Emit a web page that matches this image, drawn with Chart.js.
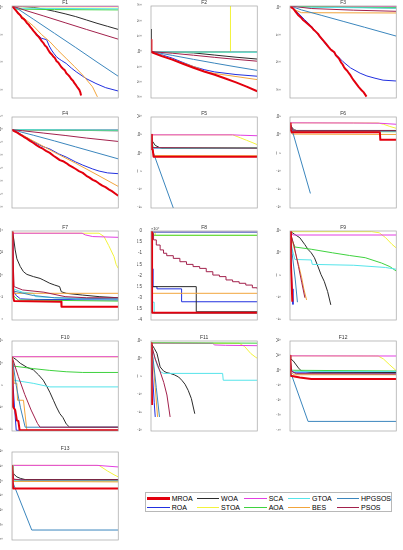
<!DOCTYPE html>
<html>
<head>
<meta charset="utf-8">
<script src="https://cdn.jsdelivr.net/npm/chart.js@4.4.1/dist/chart.umd.min.js"></script>
<style>
  body { margin: 0; background: #fff; }
  #page { position: relative; width: 403px; height: 550px; overflow: hidden; background: #fff; }
  .panel { position: absolute; }
  #legend {
    position: absolute; left: 145px; top: 492px; width: 247px; height: 20px;
    box-sizing: border-box; border: 1px solid #b8b8b8; background: #fff;
    padding: 1px 0 0 1.3px;
    display: grid; grid-auto-flow: column;
    grid-template-rows: 9px 9px;
    grid-template-columns: 49.4px 47.6px 43.4px 49px auto;
    font: 7px "Liberation Sans", Arial, sans-serif; color: #000;
  }
  .item { display: flex; align-items: center; white-space: nowrap; }
  .item i { display: inline-block; width: 22.6px; margin-right: 1.8px; }
</style>
</head>
<body>
<div id="page"><div id="legend"></div></div>
<script>
// plotting order follows the legend (column by column)
const algorithms = ['MROA', 'ROA', 'WOA', 'STOA', 'SCA', 'AOA', 'GTOA', 'BES', 'HPGSOS', 'PSOS'];
const colors = ['#e3000e', '#2230df', '#2b2b2b', '#f3f33c', '#e23fe2', '#3fd23f', '#55e4ea', '#f2a53c', '#3b86bd', '#a2214c'];
const titles = ['F1', 'F2', 'F3', 'F4', 'F5', 'F6', 'F7', 'F8', 'F9', 'F10', 'F11', 'F12', 'F13'];
const iterTicks = [0, 50, 100, 150, 200, 250, 300, 350, 400, 450, 500];

// y values are log10 of the best fitness (F8: fitness in units of 10^4)
const yLimits = [[-325, 5], [-300, 300], [-325, 5], [-300, 50], [-15, 10], [-20, 5], [-4, 4],
                 [-4, 0], [-15, 5], [-15.2, 5], [-20, 5], [-40, 20], [-40, 20]];
const yTicks = [
  [0, -100, -200, -300],
  [300, 200, 100, 0, -100, -200, -300],
  [0, -100, -200, -300],
  [50, 0, -50, -100, -150, -200, -250, -300],
  [10, 5, 0, -5, -10, -15],
  [5, 0, -5, -10, -15, -20],
  [4, 2, 0, -2, -4],
  [0, -0.5, -1, -1.5, -2, -2.5, -3, -3.5, -4],
  [5, 0, -5, -10, -15],
  [5, 0, -5, -10, -15],
  [5, 0, -5, -10, -15, -20],
  [20, 10, 0, -10, -20, -30, -40],
  [20, 10, 0, -10, -20, -30, -40]
];

// each function: one [iteration, value] list per algorithm, in the order above
const f1 = [
  [[0,5],[8,-2],[15,-8],[22,-14],[30,-22],[39,-28],[47,-38],[55,-41],[62,-47],[70,-56],[78,-61],[85,-69],[93,-76],[101,-84],[110,-92],[118,-100],[124,-104],[132,-112],[140,-121],[147,-127],[155,-137],[163,-142],[170,-152],[178,-162],[186,-168],[194,-176],[201,-181],[210,-193],[218,-198],[224,-205],[232,-214],[240,-220],[248,-225],[256,-236],[264,-242],[271,-248],[280,-258],[288,-264],[294,-272],[302,-280],[310,-289],[317,-296],[322,-306],[325,-316]],
  [[0,5],[20,-14],[50,-38],[80,-64],[110,-92],[139,-111],[150,-113],[163,-116],[175,-138],[186,-153],[198,-166],[209,-177],[222,-185],[232,-190],[255,-201],[280,-218],[302,-231],[348,-255],[395,-273],[441,-288],[500,-300]],
  [[0,5],[50,3],[100,0],[150,-6],[200,-14],[250,-23],[300,-33],[350,-45],[400,-57],[450,-68],[500,-79]],
  [[0,5],[30,2],[500,2]],
  [[0,5],[500,4]],
  [[0,5],[15,-6],[200,-8],[500,-9]],
  [[0,5],[15,-3],[500,-5]],
  [[0,5],[20,-10],[50,-35],[101,-67],[140,-98],[178,-123],[215,-153],[255,-183],[295,-213],[333,-243],[379,-285],[402,-321]],
  [[0,5],[25,-4],[100,-42],[200,-93],[300,-144],[400,-196],[500,-247]],
  [[0,5],[30,-2],[60,-10],[150,-31],[250,-55],[350,-79],[500,-114]]
];
const f2 = [
  [[0,80],[2,0],[10,-5],[50,-27],[100,-50],[150,-77],[200,-103],[250,-127],[300,-148],[350,-173],[400,-198],[450,-226],[500,-256]],
  [[0,5],[2,0],[50,-18],[100,-40],[150,-68],[200,-95],[250,-115],[300,-130],[400,-147],[500,-158]],
  [[0,150],[2,0],[100,0],[200,-6],[300,-20],[400,-34],[500,-46]],
  [[0,5],[2,0],[374,0],[374,320]],
  [[0,5],[2,2],[500,1]],
  [[0,5],[2,0],[500,0]],
  [[0,5],[2,0],[500,-1]],
  [[0,5],[2,0],[50,-22],[100,-48],[150,-72],[200,-95],[230,-110],[250,-128],[300,-140],[400,-160],[500,-180]],
  [[0,5],[20,-2],[100,-22],[200,-48],[300,-73],[400,-97],[500,-120]],
  [[0,5],[20,0],[100,-8],[200,-21],[300,-35],[400,-48],[500,-60]]
];
const f3 = [
  [[0,5],[8,-1],[15,-4],[25,-14],[38,-27],[50,-35],[60,-44],[69,-50],[80,-57],[92,-65],[100,-70],[110,-79],[120,-86],[131,-94],[140,-104],[150,-113],[160,-122],[169,-130],[180,-141],[190,-150],[200,-156],[208,-160],[216,-172],[224,-178],[231,-184],[240,-197],[247,-204],[254,-214],[262,-222],[270,-228],[277,-236],[285,-244],[293,-254],[300,-262],[308,-270],[315,-277],[323,-285],[331,-292],[338,-298],[346,-304],[354,-313],[360,-320]],
  [[0,5],[15,-2],[38,-20],[69,-44],[100,-67],[131,-97],[169,-133],[208,-163],[250,-195],[285,-217],[330,-236],[362,-246],[400,-254],[438,-261],[500,-264]],
  [[0,5],[100,3],[300,0],[500,-2]],
  [[0,5],[500,3]],
  [[0,5],[500,4]],
  [[0,5],[100,2],[500,-1]],
  [[0,5],[50,1],[500,-3]],
  [[0,5],[20,-8],[54,-19],[500,-20]],
  [[0,5],[20,0],[54,-9],[150,-29],[250,-50],[350,-71],[500,-103]],
  [[0,5],[100,-4],[300,-10],[500,-14]]
];
const f4 = [
  [[0,1],[10,-4],[25,-10],[39,-18],[55,-26],[70,-33],[85,-42],[101,-50],[115,-58],[130,-66],[145,-72],[160,-80],[178,-88],[195,-99],[210,-107],[225,-116],[240,-120],[255,-127],[270,-136],[285,-143],[300,-150],[315,-158],[333,-165],[350,-176],[365,-183],[380,-192],[395,-197],[410,-206],[425,-214],[440,-220],[457,-229],[470,-235],[485,-244],[500,-253]],
  [[0,1],[39,-15],[101,-45],[140,-62],[178,-73],[220,-92],[255,-104],[300,-123],[333,-135],[380,-150],[410,-158],[450,-165],[500,-168]],
  [[0,1],[500,-3]],
  [[0,1],[500,0]],
  [[0,1],[500,1]],
  [[0,1],[500,-1]],
  [[0,1],[500,0]],
  [[0,1],[50,-20],[100,-42],[200,-86],[300,-128],[400,-172],[500,-217]],
  [[0,1],[30,-5],[100,-20],[200,-42],[300,-65],[400,-88],[500,-111]],
  [[0,1],[50,-3],[150,-12],[250,-21],[350,-31],[500,-44]]
];
const f5 = [
  [[0,5.1],[4,1.15],[8,1.1],[12,-0.9],[500,-0.9]],
  [[0,5],[3,1.5],[500,1.42]],
  [[0,5.1],[5,3.5],[20,2.2],[40,1.6],[50,1.45],[500,1.42]],
  [[0,5.1],[384,5.1],[420,4.3],[450,3.6],[480,2.9],[500,2.4]],
  [[0,5.1],[384,5.1],[420,5.0],[500,4.85]],
  [[0,5],[10,1.6],[500,1.5]],
  [[0,5],[10,1.5],[500,1.45]],
  [[0,5],[8,1.0],[15,-0.6],[500,-0.65]],
  [[0,5],[5,1.15],[105,-15]],
  [[0,5],[6,1.6],[500,1.45]]
];
const f6 = [
  [[0,3.2],[3,1.5],[8,0.8],[423,0.8],[425,-1.27],[500,-1.27]],
  [[0,3.2],[5,1.2],[500,1.15]],
  [[0,3.0],[10,2.0],[20,1.5],[31,1.3],[500,1.3]],
  [[0,3.4],[415,3.35],[440,3.0],[470,2.4],[500,1.9]],
  [[0,3.4],[300,3.35],[420,3.3],[500,3.0]],
  [[0,3.2],[8,1.0],[500,0.95]],
  [[0,3.2],[8,1.1],[500,1.05]],
  [[0,3.2],[10,0.3],[500,0.2]],
  [[0,3.4],[96,-16]],
  [[0,3.2],[15,1.2],[500,1.2]]
];
const f7 = [
  [[0,3.9],[3,1.0],[6,-2.0],[10,-2.3],[232,-2.36],[233,-2.81],[500,-2.81]],
  [[0,3.8],[4,-1.2],[20,-1.8],[40,-2.1],[100,-2.15],[500,-2.2]],
  [[0,3.9],[8,3.3],[15,2.3],[23,1.5],[39,0.8],[54,0.34],[70,0.1],[101,-0.1],[132,-0.26],[147,-0.4],[178,-0.7],[201,-0.86],[224,-1.0],[232,-1.46],[255,-1.6],[333,-1.76],[410,-1.9],[500,-2.0]],
  [[0,3.8],[410,3.8],[433,3.5],[455,2.7],[480,1.7],[490,1.0],[500,0.64]],
  [[0,3.8],[330,3.8],[345,3.65],[380,3.5],[500,3.43]],
  [[0,3.8],[5,-1.8],[30,-2.2],[500,-2.3]],
  [[0,3.8],[6,-1.2],[50,-1.5],[100,-1.6],[110,-1.9],[300,-2.1],[500,-2.1]],
  [[0,3.8],[5,-1.0],[10,-1.6],[500,-1.6]],
  [[0,3.8],[8,-1.4],[100,-1.8],[200,-2.0],[500,-2.1]],
  [[0,3.8],[10,-1.0],[50,-1.3],[150,-1.5],[250,-1.9],[350,-2.0],[500,-2.0]]
];
const f8 = [
  [[0,-0.05],[5,-3.67],[500,-3.67]],
  [[0,-0.05],[4,-1.7],[10,-2.5],[28,-2.6],[144,-3.18],[500,-3.18]],
  [[0,-0.05],[3,-2.5],[213,-3.63],[500,-3.66]],
  [[0,-0.05],[20,-0.2],[500,-0.2]],
  [[0,-0.05],[500,-0.06]],
  [[0,-0.1],[10,-0.19],[500,-0.2]],
  [[0,-0.1],[3,-2.5],[6,-3.2],[15,-3.7],[500,-3.7]],
  [[0,-0.05],[5,-2.8],[500,-2.8]],
  [[0,-0.05],[500,-0.06]],
  [[0,-0.1],[12,-0.4],[25,-0.63],[43,-0.85],[59,-1.0],[74,-1.11],[105,-1.23],[136,-1.38],[167,-1.5],[198,-1.6],[229,-1.68],[260,-1.83],[291,-1.98],[322,-2.05],[353,-2.2],[384,-2.28],[415,-2.35],[446,-2.43],[477,-2.55],[500,-2.61]]
];
const f9 = [
  [[0,5],[4,-2],[8,-7],[11,-10.9]],
  [[0,5],[5,-3],[10,-8],[14,-11.5]],
  [[0,5],[20,4.3],[46,3.5],[69,2.0],[85,0.85],[100,0.1],[115,-1.0],[131,-2.9],[146,-4.8],[161,-6.3],[177,-8.6],[192,-11.6]],
  [[0,4.85],[385,4.85],[420,4.6],[450,3.5],[480,2.0],[500,1.2]],
  [[0,4.85],[8,4.3],[15,4.1],[500,4.1]],
  [[0,4.8],[10,3.0],[23,1.4],[100,0.9],[200,0.1],[280,-0.5],[354,-1.0],[431,-2.2],[470,-3.0],[500,-4.0]],
  [[0,4.8],[10,1.0],[23,-1.4],[100,-1.5],[105,-2.5],[300,-2.7],[450,-3.2],[500,-3.6]],
  [[0,5],[20,1.0],[40,-2.5],[55,-5.5],[65,-8.0],[78,-10.5]],
  [[0,5],[10,0],[25,-6],[35,-11]],
  [[0,5],[20,1.5],[40,-3.0],[55,-6.5],[70,-10]]
];
const f10 = [
  [[0,1.47],[5,-9.8],[15,-10.5],[23,-12.8],[30,-13.0],[36,-15.05],[500,-15.05]],
  [[0,1.47],[5,-5],[12,-10],[20,-15.05],[500,-15.05]],
  [[0,1.47],[20,0.8],[39,0.0],[70,-0.9],[101,-1.5],[125,-2.6],[147,-3.8],[165,-5.3],[178,-6.5],[195,-8.3],[209,-9.8],[225,-11.3],[240,-12.2],[255,-13.6],[271,-14.35],[500,-14.35]],
  [[0,1.47],[500,1.45]],
  [[0,1.47],[500,1.47]],
  [[0,1.47],[7,-0.63],[100,-1.2],[178,-1.6],[255,-1.9],[333,-2.06],[500,-2.06]],
  [[0,1.47],[8,-3.8],[100,-4.5],[178,-5.3],[500,-5.3]],
  [[0,1.47],[10,-4.5],[23,-4.5],[26,-8.3],[54,-8.3],[70,-15.05],[500,-15.05]],
  [[0,1.47],[20,-5],[40,-10],[62,-14.35],[500,-14.35]],
  [[0,1.47],[30,-3],[60,-7],[90,-10.5],[120,-13.5],[132,-14.35],[500,-14.35]]
];
const f11 = [
  [[0,4.4],[3,-5],[5,-12.8]],
  [[0,4.4],[8,-5],[15,-12],[20,-16.1]],
  [[0,4.4],[15,3],[28,1.6],[43,-2.2],[60,-3.4],[75,-3.8],[90,-4.0],[110,-4.4],[130,-5.0],[145,-5.9],[160,-7.0],[175,-8.7],[190,-11.0],[206,-15.2]],
  [[0,4.4],[415,4.35],[440,3.5],[470,1.5],[490,0.6],[500,0.2]],
  [[0,4.4],[290,4.35],[300,3.9],[350,3.8],[500,3.7]],
  [[0,4.5],[500,4.4]],
  [[0,4.4],[15,1],[30,-2],[43,-3.5],[60,-4.0],[337,-4.0],[340,-5.9],[500,-5.9]],
  [[0,4.4],[10,-1],[20,-8],[31,-16.1]],
  [[0,4.4],[10,0],[25,-8],[40,-16.1]],
  [[0,4.4],[20,0],[40,-3],[60,-6.5],[75,-10],[90,-16.1]]
];
const f12 = [
  [[0,10.1],[2,-3.2],[46,-4.3],[100,-5.4],[500,-5.4]],
  [[0,10],[5,0],[20,-1.2],[500,-1.4]],
  [[0,10.1],[3,8],[15,6.8],[40,2],[54,0],[100,-0.8],[500,-1.0]],
  [[0,10.1],[415,10.0],[440,8],[470,4],[500,0.2]],
  [[0,10.1],[500,10.0]],
  [[0,10],[5,0.5],[500,0.0]],
  [[0,10],[5,1],[20,-0.3],[500,-0.3]],
  [[0,10],[5,-1],[20,-2.5],[500,-2.5]],
  [[0,10],[2,-0.5],[85,-33.6],[500,-33.6]],
  [[0,10],[8,0],[30,-1.8],[500,-2.0]]
];
const f13 = [
  [[0,10.9],[5,-4.9],[500,-4.9]],
  [[0,10.9],[4,1],[500,0.8]],
  [[0,10.9],[8,5],[23,3.0],[40,2.0],[62,1.2],[500,1.2]],
  [[0,10.9],[410,10.8],[450,7],[480,4.5],[500,3.0]],
  [[0,10.9],[400,10.9],[500,9.8]],
  [[0,10.9],[4,0.3],[500,0.3]],
  [[0,10.9],[4,0.5],[500,0.5]],
  [[0,10.9],[4,0],[500,-0.4]],
  [[0,10.9],[3,-0.4],[93,-33.2],[500,-33.2]],
  [[0,10.9],[8,1.5],[40,1.0],[500,1.0]]
];
const panels = [f1, f2, f3, f4, f5, f6, f7, f8, f9, f10, f11, f12, f13];

// where the plot boxes sit on the page
const colLeft = [12, 151, 290];
const rowTop = [6, 117, 231, 341, 452];
const rowHeight = [92, 91, 89, 90, 88];
const plotWidth = 107;
const padLeft = 14, padTop = 7, padRight = 4, padBottom = 9;

Chart.defaults.font.family = '"Liberation Sans", "DejaVu Sans", sans-serif';
Chart.defaults.color = '#444';

const sup = { '-': '\u207B', '0': '\u2070', '1': '\u00B9', '2': '\u00B2', '3': '\u00B3', '4': '\u2074',
              '5': '\u2075', '6': '\u2076', '7': '\u2077', '8': '\u2078', '9': '\u2079' };
const pow10 = v => '10' + String(v).split('').map(c => sup[c] || c).join('');

const framePlugin = {
  id: 'frame',
  afterDraw(chart, args, opts) {
    const { ctx, chartArea: a } = chart;
    ctx.save();
    ctx.strokeStyle = '#a3a3a3';
    ctx.lineWidth = 0.7;
    ctx.strokeRect(a.left, a.top, a.right - a.left, a.bottom - a.top);
    ctx.fillStyle = '#333';
    ctx.font = '5px "Liberation Sans", Arial, sans-serif';
    ctx.textAlign = 'center';
    ctx.fillText(opts.title, (a.left + a.right) / 2, a.top - 2);
    if (opts.note) {
      ctx.textAlign = 'left';
      ctx.font = '4px "Liberation Sans", "DejaVu Sans", sans-serif';
      ctx.fillText(opts.note, a.left, a.top - 1.5);
    }
    ctx.restore();
  }
};

const page = document.getElementById('page');

panels.forEach((series, p) => {
  const col = p % 3, row = Math.floor(p / 3);
  const box = document.createElement('div');
  box.className = 'panel';
  box.style.left = (colLeft[col] - padLeft) + 'px';
  box.style.top = (rowTop[row] - padTop) + 'px';
  box.style.width = (plotWidth + padLeft + padRight) + 'px';
  box.style.height = (rowHeight[row] + padTop + padBottom) + 'px';
  const canvas = document.createElement('canvas');
  box.appendChild(canvas);
  page.appendChild(box);

  const isScaled = titles[p] === 'F8';
  new Chart(canvas, {
    type: 'line',
    data: {
      datasets: series.map((pts, i) => ({
        label: algorithms[i],
        data: pts,
        borderColor: colors[i],
        borderWidth: i === 0 ? 2 : 1,
        borderJoinStyle: 'round',
        pointRadius: 0,
        fill: false,
        tension: 0,
        stepped: isScaled,
        order: i === 0 ? 0 : 10 - i
      }))
    },
    options: {
      animation: false,
      responsive: true,
      maintainAspectRatio: false,
      events: [],
      layout: { padding: { top: padTop, right: padRight, left: 0, bottom: 0 } },
      plugins: {
        legend: { display: false },
        tooltip: { enabled: false },
        frame: { title: titles[p], note: isScaled ? '\u00D710\u2074' : '' }
      },
      scales: {
        x: {
          type: 'linear', min: 0, max: 500,
          grid: { display: false }, border: { display: false },
          afterBuildTicks: s => { s.ticks = iterTicks.map(v => ({ value: v })); },
          afterFit: s => { s.height = padBottom; },
          ticks: { autoSkip: false, maxRotation: 0, padding: 1, font: { size: 4.5 } }
        },
        y: {
          type: 'linear', min: yLimits[p][0], max: yLimits[p][1],
          grid: { display: false }, border: { display: false },
          afterBuildTicks: s => { s.ticks = yTicks[p].map(v => ({ value: v })); },
          afterFit: s => { s.width = padLeft; },
          ticks: {
            autoSkip: false, padding: 1, font: { size: 4.5 },
            callback: v => isScaled ? String(v) : pow10(v)
          }
        }
      }
    },
    plugins: [framePlugin]
  });
});

// legend box
const legend = document.getElementById('legend');
algorithms.forEach((name, i) => {
  const item = document.createElement('div');
  item.className = 'item';
  const line = document.createElement('i');
  line.style.height = (i === 0 ? 2.8 : 1.7) + 'px';
  line.style.background = colors[i];
  item.appendChild(line);
  item.appendChild(document.createTextNode(name));
  legend.appendChild(item);
});
</script>
</body>
</html>
